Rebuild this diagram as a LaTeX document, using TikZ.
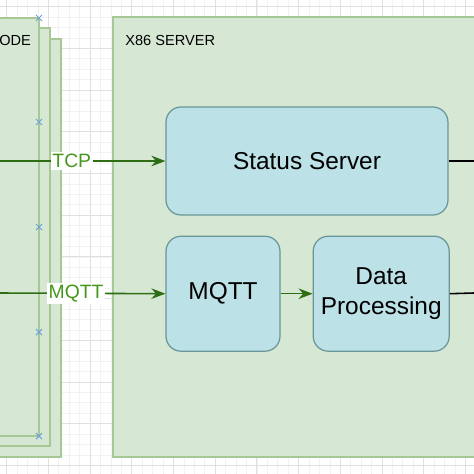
\documentclass[tikz,border=0pt]{standalone}
\usepackage{fontspec}
\setmainfont{Liberation Sans}
\usetikzlibrary{arrows.meta, positioning}
\definecolor{nodefill}{RGB}{214, 232, 212}
\definecolor{nodeline}{RGB}{165, 200, 148}
\definecolor{procfill}{RGB}{188, 225, 230}
\definecolor{procline}{RGB}{105, 150, 152}
\definecolor{flowgreen}{RGB}{45, 110, 20}
\definecolor{labelgreen}{RGB}{70, 150, 30}
\definecolor{handleblue}{RGB}{110, 160, 215}

\begin{document}
\begin{tikzpicture}[x=0.02cm, y=-0.02cm,
    stackbox/.style={draw=nodeline, fill=nodefill, line width=0.6pt},
    procbox/.style={draw=procline, fill=procfill, line width=0.7pt, rounded corners=0.3cm,
        align=center, font=\fontsize{13.9}{17}\selectfont},
    flowarrow/.style={draw=flowgreen, line width=0.9pt, -{Stealth[length=8pt, width=6pt]}},
    flowlabel/.style={fill=white, text=labelgreen, inner sep=1pt, font=\fontsize{11}{13}\selectfont},
    gridminor/.style={draw=black!5, line width=0.3pt},
    gridmajor/.style={draw=black!12, line width=0.4pt}]
    \useasboundingbox (0,0) rectangle (474,474);
    \clip (0,0) rectangle (474,474);

    % Background grid
    \fill[white] (0,0) rectangle (474,474);
    \foreach \k in {0,...,45} {
        \draw[gridminor] ({6.6+10.425*\k},0) -- ++(0,474);
        \draw[gridminor] (0,{6.6+10.425*\k}) -- ++(474,0);
    }
    \foreach \k in {0,...,11} {
        \draw[gridmajor] ({6.6+41.7*\k},0) -- ++(0,474);
        \draw[gridmajor] (0,{6.6+41.7*\k}) -- ++(474,0);
    }

    % Node (stacked)
    \draw[stackbox] (-10, 39) rectangle (61, 457);
    \draw[stackbox] (-10, 28) rectangle (50, 446);
    \draw[stackbox] (-10, 18) rectangle (39, 436);
    \node[anchor=west, inner sep=0pt, font=\fontsize{8.3}{10}\selectfont] (nodetitle) at (-1, 40) {ODE};
    \foreach \y in {18, 122, 227, 332, 436} {
        \draw[handleblue, line width=0.6pt] (36,\y-3) -- (42,\y+3) (36,\y+3) -- (42,\y-3);
    }

    % X86 server
    \draw[stackbox] (113, 17) rectangle (490, 457);
    \node[anchor=west, inner sep=0pt, font=\fontsize{8.3}{10}\selectfont] (servertitle) at (125, 40) {X86 SERVER};

    % Processes
    \node[procbox, minimum width=5.64cm, minimum height=2.16cm] (status) at (307, 161) {Status Server};
    \node[procbox, minimum width=2.28cm, minimum height=2.3cm, below right=0.4cm and 0cm of status.south west] (mqtt) {MQTT};
    \node[procbox, minimum width=2.72cm, minimum height=2.3cm, right=0.64cm of mqtt] (proc) {Data\\Processing};

    % Connectors
    \coordinate (tcpin) at (0, 161);
    \coordinate (mqttin) at (0, 293);
    \coordinate (statusout) at (474, 161);
    \coordinate (procout) at (474, 293);
    \draw[flowarrow] (tcpin) -- node[flowlabel, pos=0.434] {TCP} (status.west);
    \draw[flowarrow] (mqttin) -- node[flowlabel, pos=0.46] {MQTT} (mqtt.west);
    \draw[flowarrow] (mqtt) -- (proc);
    \draw[black, line width=0.9pt] (status.east) -- (statusout);
    \draw[black, line width=0.9pt] (proc.east) -- (procout);
\end{tikzpicture}
\end{document}
